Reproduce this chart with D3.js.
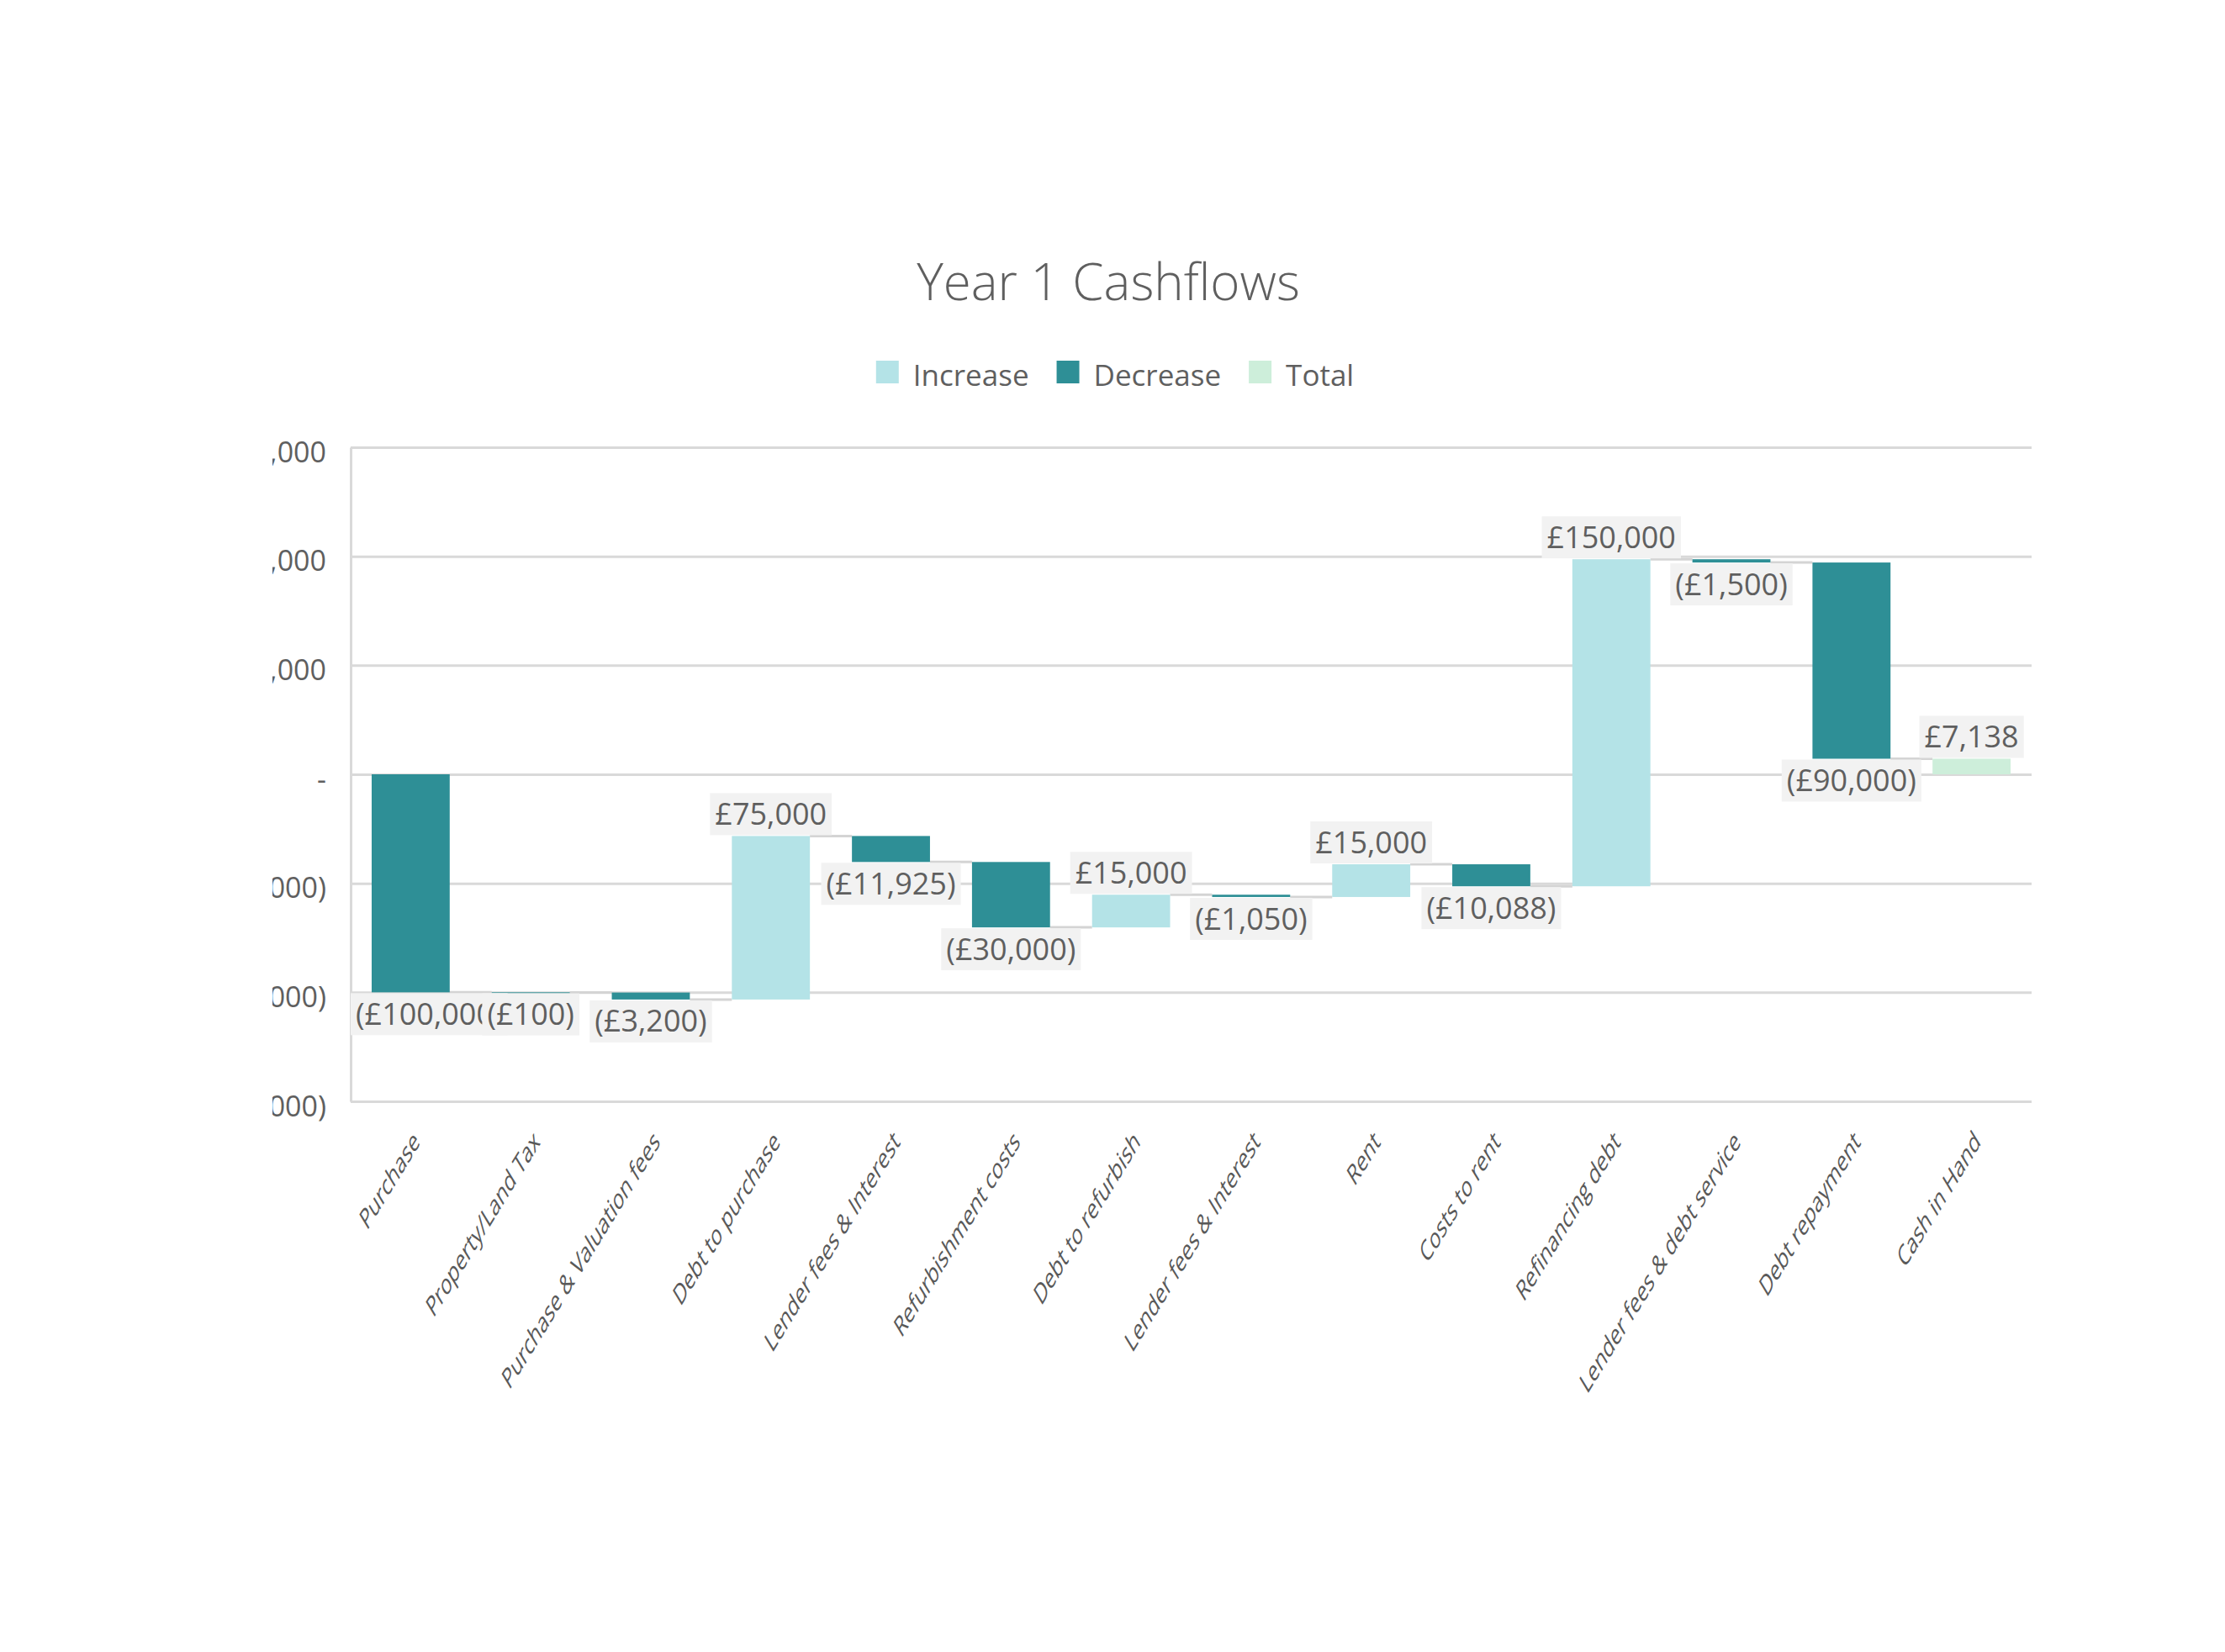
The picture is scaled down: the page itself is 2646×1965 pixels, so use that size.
<!DOCTYPE html>
<html>
<head>
<meta charset="utf-8">
<script src="https://cdn.jsdelivr.net/npm/d3@7"></script>
<style>
  body { margin: 0; background: #fff; }
  text { font-family: 'Open Sans', 'Noto Sans', sans-serif; fill: #5f5f5f; }
</style>
</head>
<body>
<div id="graph"></div>
<script>
'use strict';

let WIDTH = 2646;
let HEIGHT = 1965;
let PLOT = { left: 417, right: 2416, top: 532, bottom: 1310 };
let CLIP_X = 324;

// chart data
let CATEGORIES = [
    'Purchase', 'Property/Land Tax', 'Purchase & Valuation fees', 'Debt to purchase',
    'Lender fees & Interest', 'Refurbishment costs', 'Debt to refurbish', 'Lender fees & Interest',
    'Rent', 'Costs to rent', 'Refinancing debt', 'Lender fees & debt service',
    'Debt repayment', 'Cash in Hand'
];
let VALUES = [-100000, -100, -3200, 75000, -11925, -30000, 15000, -1050, 15000, -10088, 150000, -1500, -90000, 7138];
let KINDS = ['Decrease', 'Decrease', 'Decrease', 'Increase', 'Decrease', 'Decrease', 'Increase',
    'Decrease', 'Increase', 'Decrease', 'Increase', 'Decrease', 'Decrease', 'Total'];
let Y_TICKS = [-150000, -100000, -50000, 0, 50000, 100000, 150000];
let LEGEND = ['Increase', 'Decrease', 'Total'];

let COLORS = {
    Increase: '#b4e3e7',
    Decrease: '#2e8f96',
    Total: '#cdeeda',
};

let fmtMoney = v => {
    if (v === 0) return '-';
    let s = '£' + d3.format(',')(Math.abs(v));
    return v < 0 ? '(' + s + ')' : s;
};

// running totals -> bar extents
function buildBars () {
    let run = 0;
    return VALUES.map((v, i) => {
        let start, end;
        if (KINDS[i] === 'Total') {
            start = 0;
            end = v;
        } else {
            start = run;
            end = run + v;
        }
        run = end;
        return { i: i, name: CATEGORIES[i], value: v, kind: KINDS[i], start: start, end: end };
    });
}

function visualize () {
    let bars = buildBars();

    let svg = d3.select('#graph')
        .append('svg')
        .attr('width', WIDTH)
        .attr('height', HEIGHT);

    let x = d3.scaleBand()
        .domain(d3.range(CATEGORIES.length))
        .range([PLOT.left, PLOT.right])
        .paddingInner(0.35)
        .paddingOuter(0.175);

    let y = d3.scaleLinear()
        .domain([-150000, 150000])
        .range([PLOT.bottom, PLOT.top]);

    // title
    svg.append('text')
        .attr('x', 1318)
        .attr('y', 357)
        .attr('text-anchor', 'middle')
        .style('font-size', '60px')
        .style('font-weight', 300)
        .text('Year 1 Cashflows');

    drawLegend(svg);

    // y axis + gridlines
    svg.append('clipPath')
        .attr('id', 'yclip')
        .append('rect')
        .attr('x', CLIP_X)
        .attr('y', 0)
        .attr('width', WIDTH - CLIP_X)
        .attr('height', HEIGHT);

    let yAxis = d3.axisLeft(y)
        .tickValues(Y_TICKS)
        .tickFormat(fmtMoney)
        .tickSize(-(PLOT.right - PLOT.left))
        .tickSizeOuter(0)
        .tickPadding(29);

    let yg = svg.append('g')
        .attr('clip-path', 'url(#yclip)')
        .append('g')
        .attr('transform', 'translate(' + PLOT.left + ',0)')
        .call(yAxis);

    yg.select('.domain').attr('stroke', '#d9d9d9').attr('stroke-width', 3);
    yg.selectAll('.tick line').attr('stroke', '#d9d9d9').attr('stroke-width', 3);
    yg.selectAll('.tick text')
        .attr('dy', '0.5em')
        .style('font-size', '34px')
        .style('font-family', "'Open Sans', sans-serif")
        .attr('fill', '#5f5f5f');

    // connectors
    svg.append('g')
        .selectAll('line')
        .data(bars.slice(0, -1))
        .enter()
        .append('line')
        .attr('x1', d => x(d.i) + x.bandwidth())
        .attr('x2', d => x(d.i + 1))
        .attr('y1', d => y(d.end))
        .attr('y2', d => y(d.end))
        .attr('stroke', '#d4d4d4')
        .attr('stroke-width', 3);

    // bars
    svg.append('g')
        .selectAll('rect')
        .data(bars)
        .enter()
        .append('rect')
        .attr('x', d => x(d.i))
        .attr('width', x.bandwidth())
        .attr('y', d => y(Math.max(d.start, d.end)))
        .attr('height', d => Math.max(1, Math.abs(y(d.start) - y(d.end))))
        .attr('fill', d => COLORS[d.kind]);

    // data labels, later ones drawn over earlier ones
    let lg = svg.append('g');
    bars.forEach(d => {
        let g = lg.append('g');
        let cx = x(d.i) + x.bandwidth() / 2;
        let cy = d.kind === 'Decrease'
            ? y(Math.min(d.start, d.end)) + 26
            : y(Math.max(d.start, d.end)) - 26;
        let rect = g.append('rect').attr('fill', '#f2f2f2');
        let t = g.append('text')
            .attr('x', cx)
            .attr('y', cy)
            .attr('dy', '0.35em')
            .attr('text-anchor', 'middle')
            .style('font-size', '36px')
            .text(fmtMoney(d.value));
        let w = t.node().getComputedTextLength() + 12;
        let left = Math.max(PLOT.left, cx - w / 2);
        t.attr('x', left + w / 2);
        rect.attr('x', left)
            .attr('y', cy - 25)
            .attr('width', w)
            .attr('height', 50);
    });

    // category labels
    svg.append('g')
        .selectAll('text')
        .data(bars)
        .enter()
        .append('text')
        .attr('transform', d => 'translate(' + (x(d.i) + x.bandwidth() / 2 + 12) + ',' + (PLOT.bottom + 50) + ') scale(1,1.63) rotate(-45)')
        .attr('text-anchor', 'end')
        .style('font-size', '21px')
        .style('fill', '#595959')
        .text(d => d.name);
}

function drawLegend (svg) {
    let g = svg.append('g');
    let items = g.selectAll('g')
        .data(LEGEND)
        .enter()
        .append('g');

    items.append('rect')
        .attr('width', 27)
        .attr('height', 27)
        .attr('y', 429)
        .attr('fill', d => COLORS[d]);

    items.append('text')
        .attr('x', 44)
        .attr('y', 459)
        .style('font-size', '35px')
        .text(d => d);

    let widths = [];
    items.each(function () {
        widths.push(d3.select(this).select('text').node().getComputedTextLength());
    });
    let total = d3.sum(widths) + widths.length * 44 + (widths.length - 1) * 33;
    let pos = 1326 - total / 2;
    items.each(function (d, i) {
        d3.select(this).attr('transform', 'translate(' + pos + ',0)');
        pos += 44 + widths[i] + 33;
    });
}

visualize();
</script>
</body>
</html>
